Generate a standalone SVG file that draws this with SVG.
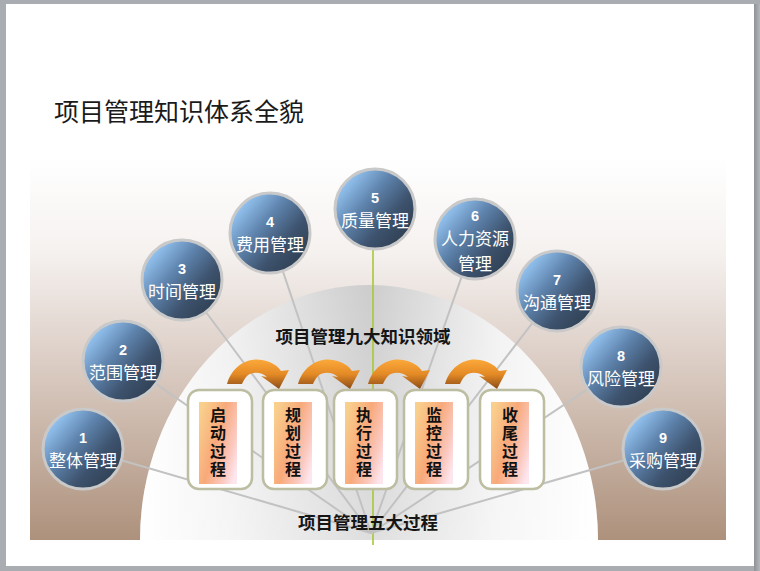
<svg xmlns="http://www.w3.org/2000/svg" width="760" height="571" viewBox="0 0 760 571">
<defs>
<linearGradient id="panelG" x1="0" y1="0" x2="0" y2="1">
<stop offset="0" stop-color="#ffffff"/>
<stop offset="0.25" stop-color="#f5f1ef"/>
<stop offset="0.55" stop-color="#dacbc2"/>
<stop offset="1" stop-color="#ad917c"/>
</linearGradient>
<linearGradient id="domeG" x1="0" y1="0" x2="1" y2="0">
<stop offset="0" stop-color="#ffffff"/>
<stop offset="0.2" stop-color="#f0f0f0"/>
<stop offset="0.5" stop-color="#cdcdcd"/>
<stop offset="0.78" stop-color="#f2f2f2"/>
<stop offset="1" stop-color="#ffffff"/>
</linearGradient>
<linearGradient id="domeV" x1="0" y1="0" x2="0" y2="1">
<stop offset="0" stop-color="#ffffff" stop-opacity="0"/>
<stop offset="1" stop-color="#ffffff" stop-opacity="0.35"/>
</linearGradient>
<linearGradient id="ballG" x1="0.15" y1="0.1" x2="0.9" y2="0.75">
<stop offset="0" stop-color="#98c8f6"/>
<stop offset="0.4" stop-color="#5d82ab"/>
<stop offset="0.75" stop-color="#3d526d"/>
<stop offset="1" stop-color="#324459"/>
</linearGradient>
<linearGradient id="innerG" x1="0" y1="0.2" x2="1" y2="0.8">
<stop offset="0" stop-color="#f9cf8c"/>
<stop offset="0.45" stop-color="#f8a97a"/>
<stop offset="0.8" stop-color="#fbc9c0"/>
<stop offset="1" stop-color="#fde6ee"/>
</linearGradient>
<linearGradient id="arrowG" x1="0" y1="0" x2="0" y2="1">
<stop offset="0" stop-color="#fba93a"/>
<stop offset="0.5" stop-color="#e48a26"/>
<stop offset="1" stop-color="#8a4c18"/>
</linearGradient>
<linearGradient id="shadowR" x1="0" y1="0" x2="1" y2="0">
<stop offset="0" stop-color="#8e9297"/>
<stop offset="1" stop-color="#b4b7bb"/>
</linearGradient>
<path id="arrow" d="M227,384 C232,366 248,357 262,360 C272,362 278,366 281,371 L289,370 L279,389 L261,376 L267,377 C262,372 252,371 247,376 C244,379 243,382 242,384 Z"/>
</defs>
<style>
.ball{fill:url(#ballG);stroke:#c9c9c9;stroke-width:3}
.num{font-family:"Liberation Sans",Arial,sans-serif;font-weight:bold;font-size:14.5px;fill:#ffffff;text-anchor:middle}
.nm{font-family:"Noto Sans CJK SC","Liberation Sans",sans-serif;font-size:17px;fill:#ffffff;text-anchor:middle}
.box{fill:#ffffff;stroke:#bdbda2;stroke-width:2.5}
.inner{fill:url(#innerG)}
.vt{font-family:"Noto Sans CJK SC","Liberation Sans",sans-serif;font-weight:bold;font-size:16px;fill:#111111;text-anchor:middle;writing-mode:vertical-rl;letter-spacing:2px}
.lbl{font-family:"Noto Sans CJK SC","Liberation Sans",sans-serif;font-weight:bold;font-size:17.5px;fill:#151515;text-anchor:middle}
.ln{stroke:#c2c2c2;stroke-width:2;fill:none}
.arr{fill:url(#arrowG)}
</style>
<rect x="0" y="0" width="760" height="571" fill="#a9acb0"/>
<rect x="754" y="4" width="6" height="567" fill="url(#shadowR)"/>
<rect x="6" y="4" width="748" height="562" fill="#ffffff"/>
<text x="54" y="121" font-family="'Noto Sans CJK SC','Liberation Sans',sans-serif" font-size="25" fill="#1a1a1a">项目管理知识体系全貌</text>
<rect x="30" y="158" width="696" height="382" fill="url(#panelG)"/>
<path d="M140,540 A229,255 0 0 1 598,540 Z" fill="url(#domeG)"/>
<path d="M140,540 A229,255 0 0 1 598,540 Z" fill="url(#domeV)"/>
<g id="connectors">
<line class="ln" x1="83" y1="449" x2="371" y2="533"/>
<line class="ln" x1="123" y1="361" x2="371" y2="533"/>
<line class="ln" x1="182" y1="280" x2="371" y2="533"/>
<line class="ln" x1="270" y1="233" x2="371" y2="533"/>
<line x1="373" y1="209" x2="373" y2="545" stroke="#a6c936" stroke-width="1.6"/>
<line class="ln" x1="475" y1="239" x2="371" y2="533"/>
<line class="ln" x1="557" y1="291" x2="371" y2="533"/>
<line class="ln" x1="621" y1="367" x2="371" y2="533"/>
<line class="ln" x1="663" y1="449" x2="371" y2="533"/>
</g>
<text class="lbl" x="363" y="343">项目管理九大知识领域</text>
<text class="lbl" x="368" y="529">项目管理五大过程</text>
<g id="arrows">
<use href="#arrow" class="arr"/>
<use href="#arrow" class="arr" transform="translate(71,0)"/>
<use href="#arrow" class="arr" transform="translate(141,0)"/>
<use href="#arrow" class="arr" transform="translate(218,0)"/>
</g>
<g id="p1"><rect class="box" x="188" y="390" width="64" height="99" rx="11"/><rect class="inner" x="199" y="402" width="38" height="82"/>
<text class="vt" x="218" y="443">启动过程</text></g>
<g id="p2"><rect class="box" x="263" y="390" width="64" height="99" rx="11"/><rect class="inner" x="274" y="402" width="38" height="82"/>
<text class="vt" x="293" y="443">规划过程</text></g>
<g id="p3"><rect class="box" x="334" y="390" width="63" height="99" rx="11"/><rect class="inner" x="345" y="402" width="38" height="82"/>
<text class="vt" x="364" y="443">执行过程</text></g>
<g id="p4"><rect class="box" x="404" y="390" width="64" height="99" rx="11"/><rect class="inner" x="415" y="402" width="38" height="82"/>
<text class="vt" x="434" y="443">监控过程</text></g>
<g id="p5"><rect class="box" x="480" y="390" width="64" height="99" rx="11"/><rect class="inner" x="491" y="402" width="38" height="82"/>
<text class="vt" x="510" y="443">收尾过程</text></g>
<g id="k1"><circle class="ball" cx="83" cy="449" r="40"/><text class="nm" x="83" y="467"><tspan class="num" x="83" y="443">1</tspan><tspan x="83" y="467">整体管理</tspan></text></g>
<g id="k2"><circle class="ball" cx="123" cy="361" r="40"/><text class="nm" x="123" y="379"><tspan class="num" x="123" y="355">2</tspan><tspan x="123" y="379">范围管理</tspan></text></g>
<g id="k3"><circle class="ball" cx="182" cy="280" r="40"/><text class="nm" x="182" y="298"><tspan class="num" x="182" y="274">3</tspan><tspan x="182" y="298">时间管理</tspan></text></g>
<g id="k4"><circle class="ball" cx="270" cy="233" r="40"/><text class="nm" x="270" y="251"><tspan class="num" x="270" y="227">4</tspan><tspan x="270" y="251">费用管理</tspan></text></g>
<g id="k5"><circle class="ball" cx="375" cy="209" r="40"/><text class="nm" x="375" y="227"><tspan class="num" x="375" y="203">5</tspan><tspan x="375" y="227">质量管理</tspan></text></g>
<g id="k6"><circle class="ball" cx="475" cy="239" r="40"/><text class="nm" x="475" y="245"><tspan class="num" x="475" y="221">6</tspan><tspan x="475" y="245">人力资源</tspan><tspan x="475" y="270">管理</tspan></text></g>
<g id="k7"><circle class="ball" cx="557" cy="291" r="40"/><text class="nm" x="557" y="309"><tspan class="num" x="557" y="285">7</tspan><tspan x="557" y="309">沟通管理</tspan></text></g>
<g id="k8"><circle class="ball" cx="621" cy="367" r="40"/><text class="nm" x="621" y="385"><tspan class="num" x="621" y="361">8</tspan><tspan x="621" y="385">风险管理</tspan></text></g>
<g id="k9"><circle class="ball" cx="663" cy="449" r="40"/><text class="nm" x="663" y="467"><tspan class="num" x="663" y="443">9</tspan><tspan x="663" y="467">采购管理</tspan></text></g>
</svg>
